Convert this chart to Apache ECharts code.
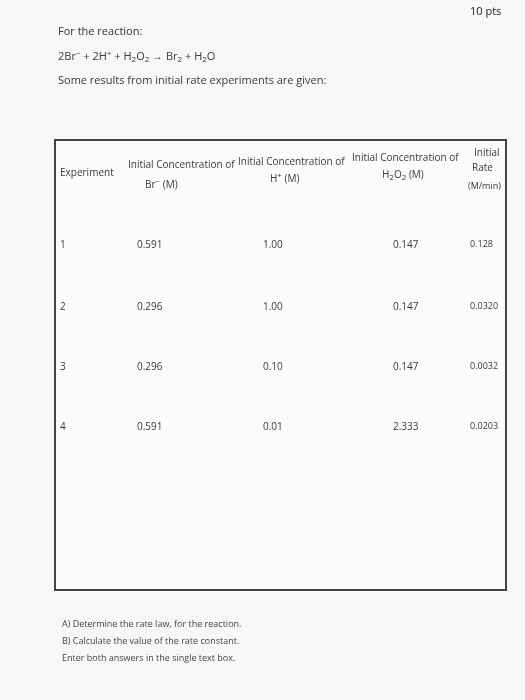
<!DOCTYPE html>
<html><head><meta charset="utf-8">
<script src="https://cdn.jsdelivr.net/npm/echarts@6/dist/echarts.min.js"></script>
<style>html,body{margin:0;background:#fff}#c{width:525px;height:700px}</style>
</head><body><div id="c"></div>
<script>
const experiments = ['1','2','3','4'];
const brConc = ['0.591','0.296','0.296','0.591'];
const hConc = ['1.00','1.00','0.10','0.01'];
const h2o2Conc = ['0.147','0.147','0.147','2.333'];
const rates = ['0.128','0.0320','0.0032','0.0203'];
const questions = ['A) Determine the rate law, for the reaction.','B) Calculate the value of the rate constant.','Enter both answers in the single text box.'];

const chart = echarts.init(document.getElementById('c'));
const F = 'Open Sans';
const rich = {sub:{fontSize:8,verticalAlign:'bottom',padding:[6,0,0,0],fontFamily:F,fill:'#333'},sup:{fontSize:8,padding:[0,0,6,0],fontFamily:F}};
function t(x,y,text,size,extra){return Object.assign({type:'text',x:x,y:y,style:Object.assign({text:text,fontSize:size||10,fontFamily:F,fill:'#3a3a3a',rich:rich},extra||{})});}
const g = [];
g.push({type:'rect',shape:{x:0,y:0,width:525,height:700},style:{fill:'#f7f7f5'}});
g.push(t(470,6,'10 pts',11,{fill:'#222'}));
g.push(t(58,26,'For the reaction:',11,{fill:'#333'}));
g.push(t(58,50,'2Br{sup|−} + 2H{sup|+} + H{sub|2}O{sub|2} → Br{sub|2} + H{sub|2}O',11));
g.push(t(58,75,'Some results from initial rate experiments are given:',11));
g.push({type:'rect',shape:{x:55,y:140,width:451,height:450},style:{fill:'#fbfbfa',stroke:'#444',lineWidth:2}});
g.push(t(60,168,'Experiment',10));
g.push(t(128,160,'Initial Concentration of',10));
g.push(t(145,178,'Br{sup|−} (M)',10));
g.push(t(238,157,'Initial Concentration of',10));
g.push(t(270,172,'H{sup|+} (M)',10));
g.push(t(352,153,'Initial Concentration of',10));
g.push(t(382,168,'H{sub|2}O{sub|2} (M)',10));
g.push(t(474,148,'Initial',10));
g.push(t(472,163,'Rate',10));
g.push(t(468,182,'(M/min)',9));
const rowY=[240,302,362,422];
experiments.forEach((e,i)=>{
  const y=rowY[i];
  g.push(t(60,y,e,10));
  g.push(t(137,y,brConc[i],10));
  g.push(t(263,y,hConc[i],10));
  g.push(t(393,y,h2o2Conc[i],10));
  g.push(t(470,y,rates[i],9));
});
questions.forEach((q,i)=>g.push(t(62,620+i*17,q,9,{fill:'#444'})));
chart.setOption({animation:false,graphic:g});
</script></body></html>
